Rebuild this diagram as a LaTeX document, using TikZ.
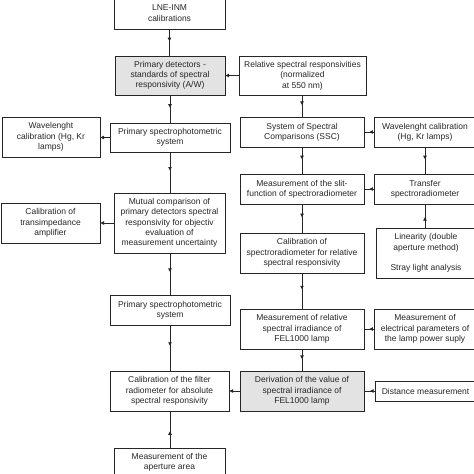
\documentclass[tikz,border=0pt]{standalone}
\usepackage{fontspec}
\setmainfont{Liberation Sans}
\usetikzlibrary{arrows.meta,decorations.markings}
\newcommand\mkbox[7][]{\node[bx,#1,minimum width={#5-#3},minimum height={#6-#4}] (#2) at ({(#3+#5)/2},{(#4+#6)/2}) {#7};}
\begin{document}
\begin{tikzpicture}[x=1pt,y=-1pt,
  bx/.style={draw=black!85, line width=1pt, align=center, inner sep=0pt, font=\fontsize{8.5}{10.3}\selectfont, text=black!85},
  grayfill/.style={fill=black!11},
  ln/.style={draw=black!85, line width=0.8pt},
  tipend/.style={-{Triangle[length=3.5pt,width=3.5pt]}},
  midarr/.style={decoration={markings, mark=at position #1 with {\arrow{Triangle[length=3.5pt,width=3.5pt]}}}, postaction={decorate}}]
\useasboundingbox (0,0) rectangle (474,474);
% left column
\mkbox{lne}{114}{-3}{225}{29}{LNE-INM\\calibrations}
\mkbox[grayfill]{pd}{115}{56}{225}{95}{Primary detectors -\\standards of spectral\\responsivity (A/W)}
\mkbox{wlA}{2}{117}{100}{157}{Wavelenght\\calibration (Hg, Kr\\lamps)}
\mkbox{psA}{110}{123}{230}{152}{Primary spectrophotometric\\system}
\mkbox{mut}{114}{193}{225}{253}{Mutual comparison of\\primary detectors spectral\\responsivity for objectiv\\evaluation of\\measurement uncertainty}
\mkbox{cti}{1}{203}{100}{243}{Calibration of\\transimpedance\\amplifier}
\mkbox{psB}{110}{295}{230}{325}{Primary spectrophotometric\\system}
\mkbox{cfr}{110}{371}{229}{411}{Calibration of the filter\\radiometer for absolute\\spectral responsivity}
\mkbox{ap}{114}{448}{225}{477}{Measurement of the\\aperture area}
% middle-right column
\mkbox{rel}{239}{56}{366}{95}{Relative spectral responsivities\\(normalized\\at 550 nm)}
\mkbox{ssc}{240}{117}{364}{147}{System of Spectral\\Comparisons (SSC)}
\mkbox{slit}{240}{174}{364}{204}{Measurement of the slit-\\function of spectroradiometer}
\mkbox{cal}{240}{233}{364}{273}{Calibration of\\spectroradiometer for relative\\spectral responsivity}
\mkbox{mrel}{240}{309}{364}{349}{Measurement of relative\\spectral irradiance of\\FEL1000 lamp}
\mkbox[grayfill]{der}{240}{371}{364}{411}{Derivation of the value of\\spectral irradiance of\\FEL1000 lamp}
% far right column
\mkbox{wlB}{374}{117}{476}{147}{Wavelenght calibration\\(Hg, Kr lamps)}
\mkbox{tr}{374}{174}{476}{204}{Transfer\\spectroradiometer}
\mkbox{lin}{376}{228}{476}{278}{Linearity (double\\aperture method)\\[10pt]Stray light analysis}
\mkbox{elec}{374}{309}{476}{349}{Measurement of\\electrical parameters of\\the lamp power suply}
\mkbox{dist}{375}{381}{476}{401}{Distance measurement}
% vertical connectors
\draw[ln,midarr=0.45] (lne.south) -- (lne.south |- pd.north);
\draw[ln,midarr=0.45] (pd.south) -- (pd.south |- psA.north);
\draw[ln,midarr=0.45] (pd.south |- psA.south) -- (pd.south |- mut.north);
\draw[ln,midarr=0.45] (pd.south |- mut.south) -- (pd.south |- psB.north);
\draw[ln,midarr=0.45] (pd.south |- psB.south) -- (pd.south |- cfr.north);
\draw[ln,midarr=0.45] (pd.south |- ap.north) -- (pd.south |- cfr.south);
\draw[ln,midarr=0.45] (ssc.north |- rel.south) -- (ssc.north);
\draw[ln,midarr=0.45] (ssc.south) -- (ssc.south |- slit.north);
\draw[ln,midarr=0.45] (ssc.south |- slit.south) -- (ssc.south |- cal.north);
\draw[ln,midarr=0.45] (ssc.south |- cal.south) -- (ssc.south |- mrel.north);
\draw[ln,midarr=0.45] (ssc.south |- mrel.south) -- (ssc.south |- der.north);
\draw[ln,midarr=0.45] (wlB.south) -- (wlB.south |- tr.north);
\draw[ln,midarr=0.45] (wlB.south |- lin.north) -- (wlB.south |- tr.south);
% horizontal connectors
\draw[ln,tipend] (rel.west |- pd.east) -- (pd.east);
\draw[ln,tipend] (psA.west) -- (psA.west -| wlA.east);
\draw[ln,tipend] (mut.west) -- (mut.west -| cti.east);
\draw[ln,tipend] (der.west) -- (der.west -| cfr.east);
\draw[ln,midarr=0.45] (wlB.west) -- (wlB.west -| ssc.east);
\draw[ln,midarr=0.45] (tr.west) -- (tr.west -| slit.east);
\draw[ln,midarr=0.45] (elec.west) -- (elec.west -| mrel.east);
\draw[ln,midarr=0.45] (dist.west) -- (dist.west -| der.east);
\end{tikzpicture}
\end{document}
